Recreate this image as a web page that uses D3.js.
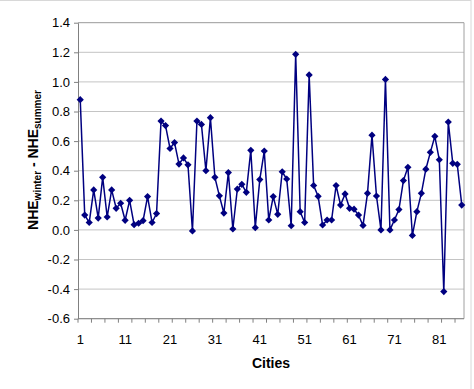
<!DOCTYPE html>
<html>
<head>
<meta charset="utf-8">
<script src="https://cdn.jsdelivr.net/npm/d3@7"></script>
<style>
  body { margin: 0; background: #fff; }
  svg { display: block; font-family: Arial, "Liberation Sans", sans-serif; }
</style>
</head>
<body>
<div id="chart"></div>
<script>
// NHE winter - summer difference, one value per city
var diffValues = [
  0.88, 0.10, 0.05, 0.27, 0.08, 0.355, 0.087, 0.27, 0.146, 0.18,
  0.065, 0.20, 0.035, 0.045, 0.062, 0.225, 0.05, 0.11, 0.735, 0.705,
  0.55, 0.59, 0.445, 0.486, 0.44, -0.007, 0.735, 0.713, 0.40, 0.758,
  0.355, 0.23, 0.114, 0.387, 0.006, 0.276, 0.308, 0.254, 0.538, 0.015,
  0.34, 0.533, 0.067, 0.225, 0.105, 0.393, 0.344, 0.028, 1.186, 0.123,
  0.05, 1.047, 0.30, 0.227, 0.033, 0.067, 0.067, 0.30, 0.168, 0.243,
  0.146, 0.14, 0.10, 0.03, 0.247, 0.64, 0.229, 0.0, 1.017, 0.0,
  0.067, 0.137, 0.333, 0.423, -0.037, 0.123, 0.247, 0.41, 0.524, 0.632,
  0.474, -0.417, 0.729, 0.45, 0.443, 0.168
];
var cityLabels = [1, 11, 21, 31, 41, 51, 61, 71, 81];
var yTicks = [-0.6, -0.4, -0.2, 0.0, 0.2, 0.4, 0.6, 0.8, 1.0, 1.2, 1.4];

var W = 474, H = 389;
var margin = {top: 22.7, right: 10, bottom: 70.3, left: 78};
var width = 464 - margin.left,
    height = 318.7 - margin.top;

var n = diffValues.length;
var data = diffValues.map(function(v, i) { return {city: i + 1, value: v}; });

var svg = d3.select("#chart").append("svg")
    .attr("width", W)
    .attr("height", H);

// faint chart-area frame
svg.append("rect")
    .attr("x", -1).attr("y", 0.5)
    .attr("width", 472).attr("height", H + 2)
    .attr("fill", "none")
    .attr("stroke", "#d8d8d8");

var g = svg.append("g")
    .attr("transform", "translate(" + margin.left + "," + margin.top + ")");

// categories sit between tick marks, like Excel
var x = d3.scaleLinear().domain([0.5, n + 0.5]).range([0, width]);
var y = d3.scaleLinear().domain([-0.6, 1.4]).range([height, 0]);

// gridlines
g.selectAll("line.grid")
    .data(yTicks)
  .enter().append("line")
    .attr("class", "grid")
    .attr("x1", 0).attr("x2", width)
    .attr("y1", function(d) { return y(d); })
    .attr("y2", function(d) { return y(d); })
    .attr("stroke", function(d) { return d === 1.4 ? "#999" : "#c4c4c4"; })
    .attr("stroke-width", 1);

// right border of plot area
g.append("line")
    .attr("x1", width).attr("x2", width)
    .attr("y1", 0).attr("y2", height)
    .attr("stroke", "#a0a0a0");

// y axis
var yAxis = d3.axisLeft(y)
    .tickValues(yTicks)
    .tickFormat(d3.format(".1f"))
    .tickSizeInner(4)
    .tickSizeOuter(0)
    .tickPadding(4);

var ya = g.append("g").call(yAxis);
ya.select(".domain").attr("stroke", "#808080");
ya.selectAll(".tick line").attr("stroke", "#808080");
ya.selectAll(".tick text")
    .attr("font-size", "13px")
    .attr("fill", "#000")
    .text(function(d) { return d3.format(".1f")(d).replace("\u2212", "-"); });

// x axis: boundary ticks every 3 cities, labels every 10
var boundaryTicks = d3.range(0.5, n + 0.6, 3);
var xa = g.append("g").attr("transform", "translate(0," + height + ")");
xa.append("line")
    .attr("x1", 0).attr("x2", width)
    .attr("stroke", "#808080");
xa.selectAll("line.tk")
    .data(boundaryTicks)
  .enter().append("line")
    .attr("class", "tk")
    .attr("x1", function(d) { return x(d); })
    .attr("x2", function(d) { return x(d); })
    .attr("y1", 0).attr("y2", 4)
    .attr("stroke", "#808080");
xa.selectAll("text")
    .data(cityLabels)
  .enter().append("text")
    .attr("x", function(d) { return x(d); })
    .attr("y", 25.5)
    .attr("text-anchor", "middle")
    .attr("font-size", "13px")
    .text(function(d) { return d; });

// axis titles
svg.append("text")
    .attr("x", margin.left + width / 2)
    .attr("y", 368)
    .attr("text-anchor", "middle")
    .attr("font-size", "14px")
    .attr("font-weight", "bold")
    .text("Cities");

var yt = svg.append("text")
    .attr("transform", "translate(38,160) rotate(-90)")
    .attr("text-anchor", "middle")
    .attr("font-size", "14px")
    .attr("font-weight", "bold");
yt.append("tspan").text("NHE");
yt.append("tspan").attr("font-size", "10px").attr("dy", 3).text("winter");
yt.append("tspan").attr("dy", -3).text(" - NHE");
yt.append("tspan").attr("font-size", "10px").attr("dy", 3).text("summer");

// series line
var line = d3.line()
    .x(function(d) { return x(d.city); })
    .y(function(d) { return y(d.value); });

g.append("path")
    .datum(data)
    .attr("d", line)
    .attr("fill", "none")
    .attr("stroke", "#000080")
    .attr("stroke-width", 1.5);

// diamond markers
var r = 3.6;
g.selectAll("path.marker")
    .data(data)
  .enter().append("path")
    .attr("class", "marker")
    .attr("transform", function(d) { return "translate(" + x(d.city) + "," + y(d.value) + ")"; })
    .attr("d", "M0," + (-r) + "L" + r + ",0L0," + r + "L" + (-r) + ",0Z")
    .attr("fill", "#000080");
</script>
</body>
</html>
